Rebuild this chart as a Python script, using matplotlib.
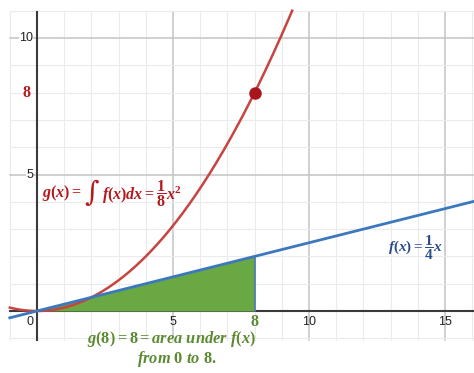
import numpy as np
import matplotlib
matplotlib.use("Agg")
import matplotlib.pyplot as plt
from matplotlib.offsetbox import TextArea, HPacker, AnnotationBbox

plt.rcParams['mathtext.fontset'] = 'custom'
plt.rcParams['mathtext.rm'] = 'Liberation Serif:bold'
plt.rcParams['mathtext.bf'] = 'Liberation Serif:bold'
plt.rcParams['mathtext.it'] = 'Liberation Serif:bold:italic'

# data
x_ticks = [0, 5, 10, 15]
y_ticks = [5, 10]
f_slope = 0.25          # f(x) = x/4
g_coef = 0.125          # g(x) = x^2/8
area_end = 8
point_x, point_y = 8, 8

xmin_plot, xmax_plot = -1.0, 16.07
ymin_plot, ymax_plot = -1.05, 10.95

fig = plt.figure(figsize=(4.74, 3.73), dpi=100)
ax = fig.add_axes([0, 0, 1, 1])
ax.set_xlim(-37 / 27.2, (474 - 37) / 27.2)
ax.set_ylim(-62 / 27.3, 311 / 27.3)
ax.axis('off')

# grid
for gx in range(-1, 17):
    if gx == 0:
        continue
    major = gx % 5 == 0
    ax.plot([gx, gx], [ymin_plot, ymax_plot], color='#c4c4c4' if major else '#ebebeb',
            lw=1.1 if major else 0.8, zorder=1)
for gy in range(-1, 12):
    if gy == 0:
        continue
    major = gy % 5 == 0
    ax.plot([xmin_plot, xmax_plot], [gy, gy], color='#c4c4c4' if major else '#ebebeb',
            lw=1.1 if major else 0.8, zorder=1)

# axes lines
ax.plot([xmin_plot, xmax_plot], [0, 0], color='#3a3a3a', lw=1.5, zorder=3)
ax.plot([0, 0], [ymin_plot, ymax_plot], color='#3a3a3a', lw=1.5, zorder=3)

# fill area
xf = np.linspace(0, area_end, 50)
ax.fill_between(xf, 0, f_slope * xf, color='#6aa843', zorder=4, lw=0)
ax.plot([area_end, area_end], [0, f_slope * area_end], color='#4a78b5', lw=1.2, zorder=5)

# curves
xg = np.linspace(-1, np.sqrt(11 / g_coef), 300)
ax.plot(xg, g_coef * xg ** 2, color='#c74440', lw=1.8, zorder=6)
xl = np.linspace(-1, 16.3, 10)
ax.plot(xl, f_slope * xl, color='#3b78bd', lw=2.0, zorder=7)
ax.plot([point_x], [point_y], 'o', color='#a8151a', ms=8, zorder=8)

# tick labels
for t in x_ticks:
    xx = -0.25 if t == 0 else t
    ax.text(xx, -0.2, str(t), ha='center', va='top', fontsize=9, color='#222222',
            family='Liberation Sans', zorder=9)
for t in y_ticks:
    ax.text(-0.15, t, str(t), ha='right', va='center', fontsize=9, color='#222222',
            family='Liberation Sans', zorder=9,
            bbox=dict(facecolor='white', edgecolor='none', pad=0.3))
ax.text(-0.2, point_y, r'$8$', ha='right', va='center', fontsize=11.5, color='#b5191c', zorder=9)
ax.text(area_end, -0.1, r'$8$', ha='center', va='top', fontsize=11.5, color='#5b8a32', zorder=9)

# annotations
red = '#b5191c'
parts = [
    TextArea(r'$g(x)=$', textprops=dict(color=red, fontsize=11.5)),
    TextArea('\u222b', textprops=dict(color=red, fontsize=20, family='DejaVu Serif')),
    TextArea(r'$f(x)dx=\dfrac{1}{8}x^2$', textprops=dict(color=red, fontsize=11.5)),
]
box = HPacker(children=parts, align='center', pad=0, sep=2)
ab = AnnotationBbox(box, (0.18, 4.32), box_alignment=(0, 0.5), frameon=False, zorder=9)
ax.add_artist(ab)

ax.text(13.93, 2.34, r'$f(x)=\dfrac{1}{4}x$', ha='center', va='center',
        fontsize=11, color='#2b4d8c', zorder=9)
ax.text(4.96, -1.04, r'$g(8)=8=area\ under\ f(x)$', ha='center', va='center',
        fontsize=11.8, color='#5b8a32', zorder=9)
ax.text(5.15, -1.74, r'$from\ 0\ to\ 8.$', ha='center', va='center',
        fontsize=11.8, color='#5b8a32', zorder=9)

fig.savefig('out.png', dpi=100)
